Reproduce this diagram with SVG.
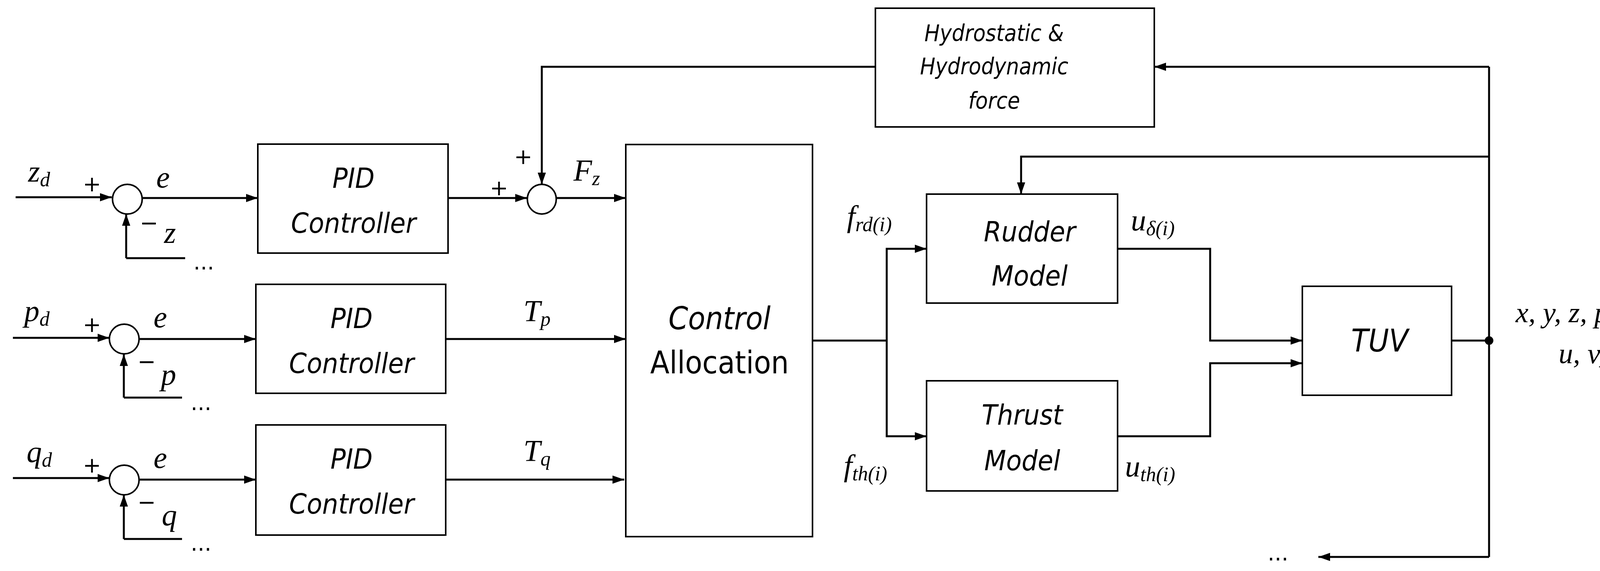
<svg xmlns="http://www.w3.org/2000/svg" width="4382" height="1462" viewBox="0 0 4382 1462">
<style>
.b{fill:#fff;stroke:#000;stroke-width:4}
.l{fill:none;stroke:#000;stroke-width:5}
.t{font-family:"DejaVu Sans Condensed","Liberation Sans",sans-serif;font-style:italic;font-size:72px;text-anchor:middle}
.m{font-family:"Liberation Serif",serif;font-style:italic;font-size:78px}
.s{font-family:"Liberation Serif",serif;font-style:italic;font-size:52px}
.p{font-family:"DejaVu Sans","Liberation Sans",sans-serif;font-size:56px}
</style>
<defs><marker id="a" viewBox="0 0 10 10" refX="10" refY="5" markerWidth="30" markerHeight="30" markerUnits="userSpaceOnUse" orient="auto"><path d="M0,1.5L10,5L0,8.5z"/></marker></defs>
<g id="connectors">
<path class="l" d="M40,505H286" marker-end="url(#a)"/>
<path class="l" d="M364,507H660" marker-end="url(#a)"/>
<path class="l" d="M1147,507H1349" marker-end="url(#a)"/>
<path class="l" d="M1425,507H1602" marker-end="url(#a)"/>
<path class="l" d="M323,661V548" marker-end="url(#a)"/>
<path class="l" d="M323,661H474"/>
<path class="l" d="M33,865H280" marker-end="url(#a)"/>
<path class="l" d="M356,868H655" marker-end="url(#a)"/>
<path class="l" d="M1141,868H1602" marker-end="url(#a)"/>
<path class="l" d="M317,1018V907" marker-end="url(#a)"/>
<path class="l" d="M317,1018H466"/>
<path class="l" d="M33,1224H280" marker-end="url(#a)"/>
<path class="l" d="M356,1228H655" marker-end="url(#a)"/>
<path class="l" d="M1141,1228H1598" marker-end="url(#a)"/>
<path class="l" d="M317,1380V1267" marker-end="url(#a)"/>
<path class="l" d="M317,1380H466"/>
<path class="l" d="M2241,171H1387V472" marker-end="url(#a)"/>
<path class="l" d="M2080,872H2270"/>
<path class="l" d="M2270,872V637H2372" marker-end="url(#a)"/>
<path class="l" d="M2270,872V1117H2372" marker-end="url(#a)"/>
<path class="l" d="M2861,637H3098V872H3334" marker-end="url(#a)"/>
<path class="l" d="M2861,1117H3098V930H3334" marker-end="url(#a)"/>
<path class="l" d="M3716,872H3812"/>
<path class="l" d="M3812,171V1426"/>
<path class="l" d="M3812,171H2955" marker-end="url(#a)"/>
<path class="l" d="M3812,401H2614V497" marker-end="url(#a)"/>
<path class="l" d="M3812,1426H3375" marker-end="url(#a)"/>
<circle cx="3812" cy="872" r="11"/>
</g>
<g id="sum1"><ellipse class="b" cx="326" cy="510" rx="38" ry="38"/></g>
<g id="sum2"><ellipse class="b" cx="318" cy="868" rx="38" ry="38"/></g>
<g id="sum3"><ellipse class="b" cx="318" cy="1229" rx="38" ry="38"/></g>
<g id="sum4"><ellipse class="b" cx="1387" cy="510" rx="37" ry="38"/></g>
<g id="pid1"><rect class="b" x="660" y="369" width="487" height="279"/><text class="t" x="905" y="481">PID</text><text class="t" x="905" y="596">Controller</text></g>
<g id="pid2"><rect class="b" x="655" y="728" width="486" height="279"/><text class="t" x="900" y="840">PID</text><text class="t" x="900" y="955">Controller</text></g>
<g id="pid3"><rect class="b" x="655" y="1088" width="486" height="282"/><text class="t" x="900" y="1200">PID</text><text class="t" x="900" y="1315">Controller</text></g>
<g id="hydro"><rect class="b" x="2241" y="21" width="714" height="304"/><text class="t" style="font-size:58px" x="2545" y="105">Hydrostatic &amp;</text><text class="t" style="font-size:58px" x="2545" y="190">Hydrodynamic</text><text class="t" style="font-size:58px" x="2545" y="278">force</text></g>
<g id="ca"><rect class="b" x="1602" y="370" width="478" height="1004"/><text class="t" style="font-size:80px" x="1842" y="843">Control</text><text class="t" style="font-size:80px;font-style:normal" x="1842" y="956">Allocation</text></g>
<g id="rudder"><rect class="b" x="2372" y="497" width="489" height="279"/><text class="t" x="2636" y="618">Rudder</text><text class="t" x="2636" y="731">Model</text></g>
<g id="thrust"><rect class="b" x="2372" y="975" width="489" height="282"/><text class="t" x="2617" y="1087">Thrust</text><text class="t" x="2617" y="1204">Model</text></g>
<g id="tuv"><rect class="b" x="3334" y="733" width="382" height="279"/><text class="t" style="font-size:80px" x="3532" y="900">TUV</text></g>
<g id="labels">
<text class="m" x="72" y="465">z<tspan class="s" dy="12">d</tspan></text>
<text class="m" x="62" y="822">p<tspan class="s" dy="12">d</tspan></text>
<text class="m" x="68" y="1183">q<tspan class="s" dy="12">d</tspan></text>
<text class="p" x="212" y="490">+</text><text class="p" x="212" y="850">+</text><text class="p" x="212" y="1210">+</text>
<text class="p" x="1254" y="500">+</text><text class="p" x="1316" y="420">+</text>
<text class="m" x="400" y="480">e</text><text class="m" x="393" y="838">e</text><text class="m" x="393" y="1198">e</text>
<text class="p" x="358" y="590">−</text><text class="m" x="420" y="622">z</text>
<text class="p" x="352" y="945">−</text><text class="m" x="412" y="985">p</text>
<text class="p" x="352" y="1305">−</text><text class="m" x="414" y="1345">q</text>
<text class="p" x="495" y="690">...</text><text class="p" x="488" y="1050">...</text><text class="p" x="488" y="1410">...</text>
<text class="p" x="3245" y="1435">...</text>
<text class="m" x="1468" y="462">F<tspan class="s" dy="12">z</tspan></text>
<text class="m" x="1340" y="822">T<tspan class="s" dy="12">p</tspan></text>
<text class="m" x="1340" y="1180">T<tspan class="s" dy="12">q</tspan></text>
<text class="m" x="2168" y="580">f<tspan class="s" dy="12">rd(i)</tspan></text>
<text class="m" x="2160" y="1218">f<tspan class="s" dy="12">th(i)</tspan></text>
<text class="m" x="2895" y="590">u<tspan class="s" dy="12">δ(i)</tspan></text>
<text class="m" x="2880" y="1220">u<tspan class="s" dy="12">th(i)</tspan></text>
<text class="m" style="font-size:74px" x="3880" y="825">x, y, z, p, q, r</text>
<text class="m" style="font-size:74px" x="3990" y="930">u, v, w,</text>
</g>
</svg>
